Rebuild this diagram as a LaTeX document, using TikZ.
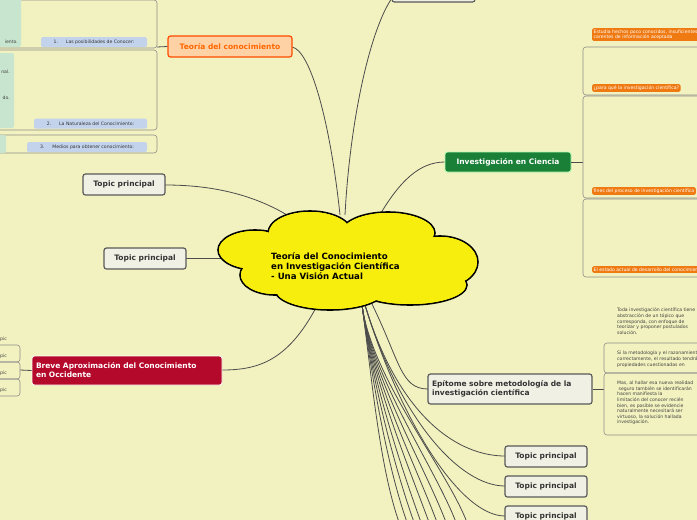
\documentclass[tikz,border=0pt]{standalone}
\usepackage{fontspec}
\setmainfont{DejaVu Sans}
\begin{document}
\begin{tikzpicture}[x=1pt,y=-1pt,
  topic/.style={draw=black!65,line width=1.2pt,fill=topicfill,rounded corners=2.5pt,font=\bfseries\fontsize{7.5}{9}\selectfont,text=black!80,inner sep=0pt},
  sub/.style={fill=subblue,rounded corners=1.5pt,font=\fontsize{4.6}{5.5}\selectfont,text=black!80,inner sep=0pt,align=left},
  org/.style={fill=orgbox,rounded corners=1.5pt,font=\fontsize{4.6}{5.3}\selectfont,text=white,inner sep=1.5pt,align=left,anchor=north west},
  conn/.style={draw=black!70,line width=0.8pt},
  brk/.style={draw=black!45,line width=0.6pt,rounded corners=3pt},
  small/.style={font=\fontsize{4.6}{5.6}\selectfont,text=black!75,align=left,anchor=north west,inner sep=0pt}]
\definecolor{bg}{HTML}{F2F2C0}
\definecolor{topicfill}{HTML}{F1F0E4}
\definecolor{subblue}{HTML}{C3D3EC}
\definecolor{orgbox}{HTML}{F07A12}
\definecolor{greenb}{HTML}{C8E6CF}
\definecolor{cloudy}{HTML}{F8EE0E}
\definecolor{breve}{HTML}{B5092B}
\definecolor{invg}{HTML}{1A7F37}
\fill[bg] (0,0) rectangle (697,520);
\useasboundingbox (0,0) rectangle (697,520);

% connectors from cloud
\draw[conn] (345,215) .. controls (350,120) and (370,30) .. (392,-2);
\draw[conn] (340,215) .. controls (330,120) and (310,50) .. (292,47);
\draw[conn] (295,220) .. controls (250,190) and (200,185) .. (165,185);
\draw[conn] (225,258) -- (186,258);
\draw[conn] (320,300) .. controls (290,360) and (260,370) .. (222,370);
\draw[conn] (378,218) .. controls (400,180) and (420,162) .. (445,162);
\draw[conn] (370,300) .. controls (400,360) and (400,389) .. (428,389);
\foreach \ex/\ey in {505/456,505/486,505/516}
  \draw[conn] (365,305) .. controls (400,420) and (460,\ey) .. (\ex,\ey);
\foreach \ex in {400,408,415,422,430,438,447,457,468}
  \draw[conn] (362,305) .. controls (372,380) and (\ex-20,470) .. (\ex,525);

% cloud
\foreach \cx/\cy/\rx/\ry in {255/250/37/20, 310/233/42/22, 388/233/47/21, 440/262/38/26, 410/285/57/20, 330/290/55/20, 275/275/35/20}
  \draw[line width=1.6pt,fill=cloudy] (\cx,\cy) ellipse [x radius=\rx,y radius=\ry];
\foreach \cx/\cy/\rx/\ry in {255/250/37/20, 310/233/42/22, 388/233/47/21, 440/262/38/26, 410/285/57/20, 330/290/55/20, 275/275/35/20}
  \fill[cloudy] (\cx,\cy) ellipse [x radius=\rx-1,y radius=\ry-1];
\fill[cloudy] (348,262) ellipse [x radius=105,y radius=32];
\node[anchor=west,align=left,font=\bfseries\fontsize{8.6}{10}\selectfont,inner sep=0pt] (cloud) at (271,266) {Teoría del Conocimiento\\en Investigación Científica\\- Una Visión Actual};

% top partial node
\draw[draw=black!65,line width=1.2pt,fill=topicfill,rounded corners=2.5pt] (392,-10) rectangle (475,2);

% Teoria del conocimiento
\node[draw=orange!60!red,line width=1.2pt,fill=orange!35!white,rounded corners=2.5pt,font=\bfseries\fontsize{7.5}{9}\selectfont,text=orange!80!red,minimum width=124pt,minimum height=21pt,inner sep=0pt] (teo) at (230,46.5) {Teoría del conocimiento};
\draw[conn] (teo.west) -- (157,47);
\draw[brk] (0,0) -- (157,0) -- (157,48) -- (0,48);
\draw[brk] (0,50) -- (157,50) -- (157,130) -- (0,130);
\draw[brk] (0,135) -- (157,135) -- (157,153) -- (0,153);
\fill[greenb,rounded corners=2pt] (-5,-5) rectangle (21,47);
\fill[greenb,rounded corners=2pt] (-5,53) rectangle (14,128);
\fill[greenb,rounded corners=2pt] (-5,135) rectangle (6,153);
\node[small,anchor=east] (g1) at (18,42) {iento.};
\node[small,anchor=east] (g2) at (10,72) {nal.};
\node[small,anchor=east] (g3) at (10,98) {do.};
\node[sub,minimum width=106pt,minimum height=10pt] (s1) at (94,42) {1.\hspace{8pt}Las posibilidades de Conocer:};
\node[sub,minimum width=113pt,minimum height=10pt] (s2) at (90.5,123.5) {2.\hspace{8pt}La Naturaleza del Conocimiento:};
\node[sub,minimum width=120pt,minimum height=10pt] (s3) at (87,147) {3.\hspace{8pt}Medios para obtener conocimiento:};

% Topic principal left
\node[topic,minimum width=82pt,minimum height=21pt] (t1) at (124,184.5) {Topic principal};
\node[topic,minimum width=82pt,minimum height=21pt] (t2) at (145,258.5) {Topic principal};

% Breve
\node[fill=breve,draw=white,line width=0.8pt,rounded corners=2.5pt,minimum width=190pt,minimum height=29pt,text width=182pt,align=left,font=\bfseries\fontsize{7.5}{9}\selectfont,text=white,inner sep=4pt] (bre) at (127,370.5) {Breve Aproximación del Conocimiento\\en Occidente};
\draw[conn] (bre.west) -- (20,370);
\draw[brk] (0,345) -- (20,345) -- (20,362) -- (0,362);
\draw[brk] (0,362) -- (20,362) -- (20,379) -- (0,379);
\draw[brk] (0,379) -- (20,379) -- (20,396) -- (0,396);
\foreach \yy/\nn in {339/a,356/b,373/c,390/d}
  \node[small,anchor=east] (op\nn) at (7,\yy) {opic};

% Investigacion en Ciencia
\node[fill=invg,draw=green!30!white,line width=0.8pt,rounded corners=2.5pt,minimum width=126pt,minimum height=20pt,font=\bfseries\fontsize{7.5}{9}\selectfont,text=white,inner sep=0pt] (inv) at (508,162) {Investigación en Ciencia};
\draw[conn] (inv.east) -- (583,162);
\draw[brk] (700,47) -- (583,47) -- (583,95) -- (700,95);
\draw[brk] (700,96) -- (583,96) -- (583,198) -- (700,198);
\draw[brk] (700,199) -- (583,199) -- (583,277) -- (700,277);
\node[org] (o1) at (592,28) {Estudia hechos poco conocidos, insuficientes\\carentes de información aceptada};
\node[org] (o2) at (592,84) {¿para qué la investigación científica?};
\node[org] (o3) at (592,187) {fines del proceso de investigación científica};
\node[org] (o4) at (592,266) {El estado actual de desarrollo del conocimiento};

% Epitome
\node[topic,minimum width=164pt,minimum height=30pt,text width=156pt,align=left,inner sep=4pt] (epi) at (510,389) {Epítome sobre metodología de la\\investigación científica};
\draw[conn] (epi.east) -- (604,389);
\draw[brk] (700,343) -- (604,343) -- (604,373) -- (700,373);
\draw[brk] (700,373) -- (604,373) -- (604,435) -- (700,435);
\node[small] (p1) at (617,308) {Toda investigación científica tiene\\abstracción de un tópico que\\corresponda, con enfoque de\\teorizar y proponer postulados\\solución.};
\node[small] (p2) at (617,351) {Si la metodología y el razonamiento\\correctamente, el resultado tendrá\\propiedades cuestionadas en};
\node[small] (p3) at (617,381) {Mas, al hallar esa nueva realidad\\\ seguro también se identificarán\\hacen manifiesta la\\limitación del conocer recién\\bien, es posible se evidencie\\naturalmente necesitará ser\\virtuoso, la solución hallada\\investigación.};

% Topic principal bottom right
\node[topic,minimum width=82pt,minimum height=21pt] (t3) at (546,456.5) {Topic principal};
\node[topic,minimum width=82pt,minimum height=21pt] (t4) at (546,486.5) {Topic principal};
\node[topic,minimum width=82pt,minimum height=21pt] (t5) at (546,516.5) {Topic principal};
\end{tikzpicture}
\end{document}
